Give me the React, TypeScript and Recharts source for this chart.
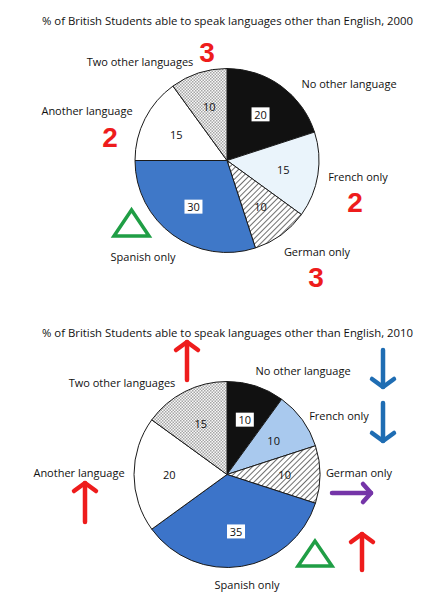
import React from "react";
import { PieChart, Pie, Cell } from "recharts";

const categories = [
  "No other language",
  "French only",
  "German only",
  "Spanish only",
  "Another language",
  "Two other languages",
];
const values2000 = [20, 15, 10, 30, 15, 10];
const values2010 = [10, 10, 10, 35, 20, 15];
const title2000 = "% of British Students able to speak languages other than English, 2000";
const title2010 = "% of British Students able to speak languages other than English, 2010";

const fills2000 = ["#111111", "#eaf4fb", "url(#hatch)", "#3f78c8", "#ffffff", "url(#dots)"];
const fills2010 = ["#111111", "#a9c9ee", "url(#hatch)", "#3c74c9", "#ffffff", "url(#dots)"];
const boxed = [true, false, false, true, false, false];

// outer name label positions (x center, baseline y)
const namePos2000: [number, number][] = [
  [349, 88], [358, 181], [317, 256], [143, 261], [87, 115], [140, 66],
];
const namePos2010: [number, number][] = [
  [303, 375], [339, 420], [359, 477], [247, 589], [79, 477], [122, 387],
];

const data2000 = categories.map((name, i) => ({ name, value: values2000[i] }));
const data2010 = categories.map((name, i) => ({ name, value: values2010[i] }));

const FONT = "'Open Sans', 'Noto Sans', sans-serif";
const RAD = Math.PI / 180;

const renderValueLabel = (props: any) => {
  const { cx, cy, midAngle, outerRadius, value, index } = props;
  const r = outerRadius * 0.62;
  const x = cx + r * Math.cos(-midAngle * RAD);
  const y = cy + r * Math.sin(-midAngle * RAD);
  return (
    <g key={`vl-${index}`}>
      {boxed[index] && <rect x={x - 9} y={y - 7} width={18} height={14} fill="#ffffff" />}
      <text
        x={x}
        y={y}
        textAnchor="middle"
        dominantBaseline="central"
        fontFamily={FONT}
        fontSize={11}
        fontWeight={500}
        fill="#111"
      >
        {value}
      </text>
    </g>
  );
};

const RED = "#ee1c1c";
const BLUE = "#1f6db3";
const PURPLE = "#7535a8";
const GREEN = "#1f9e45";

const UpArrow = ({ x, y1, y2, c }: { x: number; y1: number; y2: number; c: string }) => (
  <g stroke={c} strokeWidth={4.5} fill="none" strokeLinecap="round" strokeLinejoin="round">
    <line x1={x} y1={y2} x2={x} y2={y1 + 1} />
    <polyline points={`${x - 11},${y1 + 9} ${x},${y1 + 1} ${x + 11},${y1 + 9}`} />
  </g>
);
const DownArrow = ({ x, y1, y2, c }: { x: number; y1: number; y2: number; c: string }) => (
  <g stroke={c} strokeWidth={4.5} fill="none" strokeLinecap="round" strokeLinejoin="round">
    <line x1={x} y1={y1} x2={x} y2={y2 - 1} />
    <polyline points={`${x - 11},${y2 - 9} ${x},${y2 - 1} ${x + 11},${y2 - 9}`} />
  </g>
);

export default function App() {
  return (
    <div style={{ position: "absolute", left: 0, top: 0, width: 432, height: 593, background: "#fff" }}>
      <PieChart width={432} height={593} margin={{ top: 0, right: 0, bottom: 0, left: 0 }}>
        <defs>
          <pattern id="hatch" width="4" height="4" patternUnits="userSpaceOnUse" patternTransform="rotate(45)">
            <rect width="4" height="4" fill="#ffffff" />
            <line x1="0" y1="0" x2="0" y2="4" stroke="#222" strokeWidth="1.3" />
          </pattern>
          <pattern id="dots" width="3" height="3" patternUnits="userSpaceOnUse">
            <rect width="3" height="3" fill="#f8f8f8" />
            <rect x="0" y="0" width="1.5" height="1.5" fill="#a6a6a6" />
            <rect x="1.5" y="1.5" width="1.5" height="1.5" fill="#a6a6a6" />
          </pattern>
        </defs>
        <Pie
          data={data2000}
          dataKey="value"
          nameKey="name"
          cx={227}
          cy={160.5}
          outerRadius={92}
          startAngle={90}
          endAngle={-270}
          stroke="#1a1a1a"
          strokeWidth={1}
          label={renderValueLabel}
          labelLine={false}
          isAnimationActive={false}
        >
          {data2000.map((d, i) => (
            <Cell key={d.name} fill={fills2000[i]} />
          ))}
        </Pie>
        <Pie
          data={data2010}
          dataKey="value"
          nameKey="name"
          cx={227}
          cy={474.5}
          outerRadius={93}
          startAngle={90}
          endAngle={-270}
          stroke="#1a1a1a"
          strokeWidth={1}
          label={renderValueLabel}
          labelLine={false}
          isAnimationActive={false}
        >
          {data2010.map((d, i) => (
            <Cell key={d.name} fill={fills2010[i]} />
          ))}
        </Pie>
      </PieChart>
      <svg
        width={432}
        height={593}
        style={{ position: "absolute", left: 0, top: 0, pointerEvents: "none" }}
      >
        <g fontFamily={FONT} fontSize={10.5} fontWeight={500} fill="#111">
          <text x={227.5} y={25} textAnchor="middle" textLength={371} lengthAdjust="spacingAndGlyphs">{title2000}</text>
          <text x={227.5} y={337} textAnchor="middle" textLength={371} lengthAdjust="spacingAndGlyphs">{title2010}</text>
        </g>
        <g fontFamily={FONT} fontSize={11} fontWeight={500} fill="#111" textAnchor="middle">
          {categories.map((c, i) => (
            <text key={`a${c}`} x={namePos2000[i][0]} y={namePos2000[i][1]}>{c}</text>
          ))}
          {categories.map((c, i) => (
            <text key={`b${c}`} x={namePos2010[i][0]} y={namePos2010[i][1]}>{c}</text>
          ))}
        </g>
        <g fontFamily="'Liberation Sans', Arial, sans-serif" fontSize={28} fontWeight={600} fill={RED} textAnchor="middle">
          <text x={207} y={62}>3</text>
          <text x={110} y={147}>2</text>
          <text x={355} y={212}>2</text>
          <text x={316} y={287}>3</text>
        </g>
        <g stroke={GREEN} strokeWidth={3.5} fill="none" strokeLinejoin="miter">
          <polygon points="131.5,210 114,236 149,236" />
          <polygon points="315,541 298,566 332,566" />
        </g>
        <UpArrow x={187} y1={341} y2={380} c={RED} />
        <DownArrow x={383} y1={350} y2={388} c={BLUE} />
        <DownArrow x={383} y1={403} y2={442} c={BLUE} />
        <UpArrow x={85} y1={482} y2={522} c={RED} />
        <UpArrow x={362} y1={533} y2={570} c={RED} />
        <g stroke={PURPLE} strokeWidth={4.5} fill="none" strokeLinecap="round" strokeLinejoin="round">
          <line x1={332} y1={493} x2={371} y2={493} />
          <polyline points="363,484 371,493 363,502" />
        </g>
      </svg>
    </div>
  );
}
